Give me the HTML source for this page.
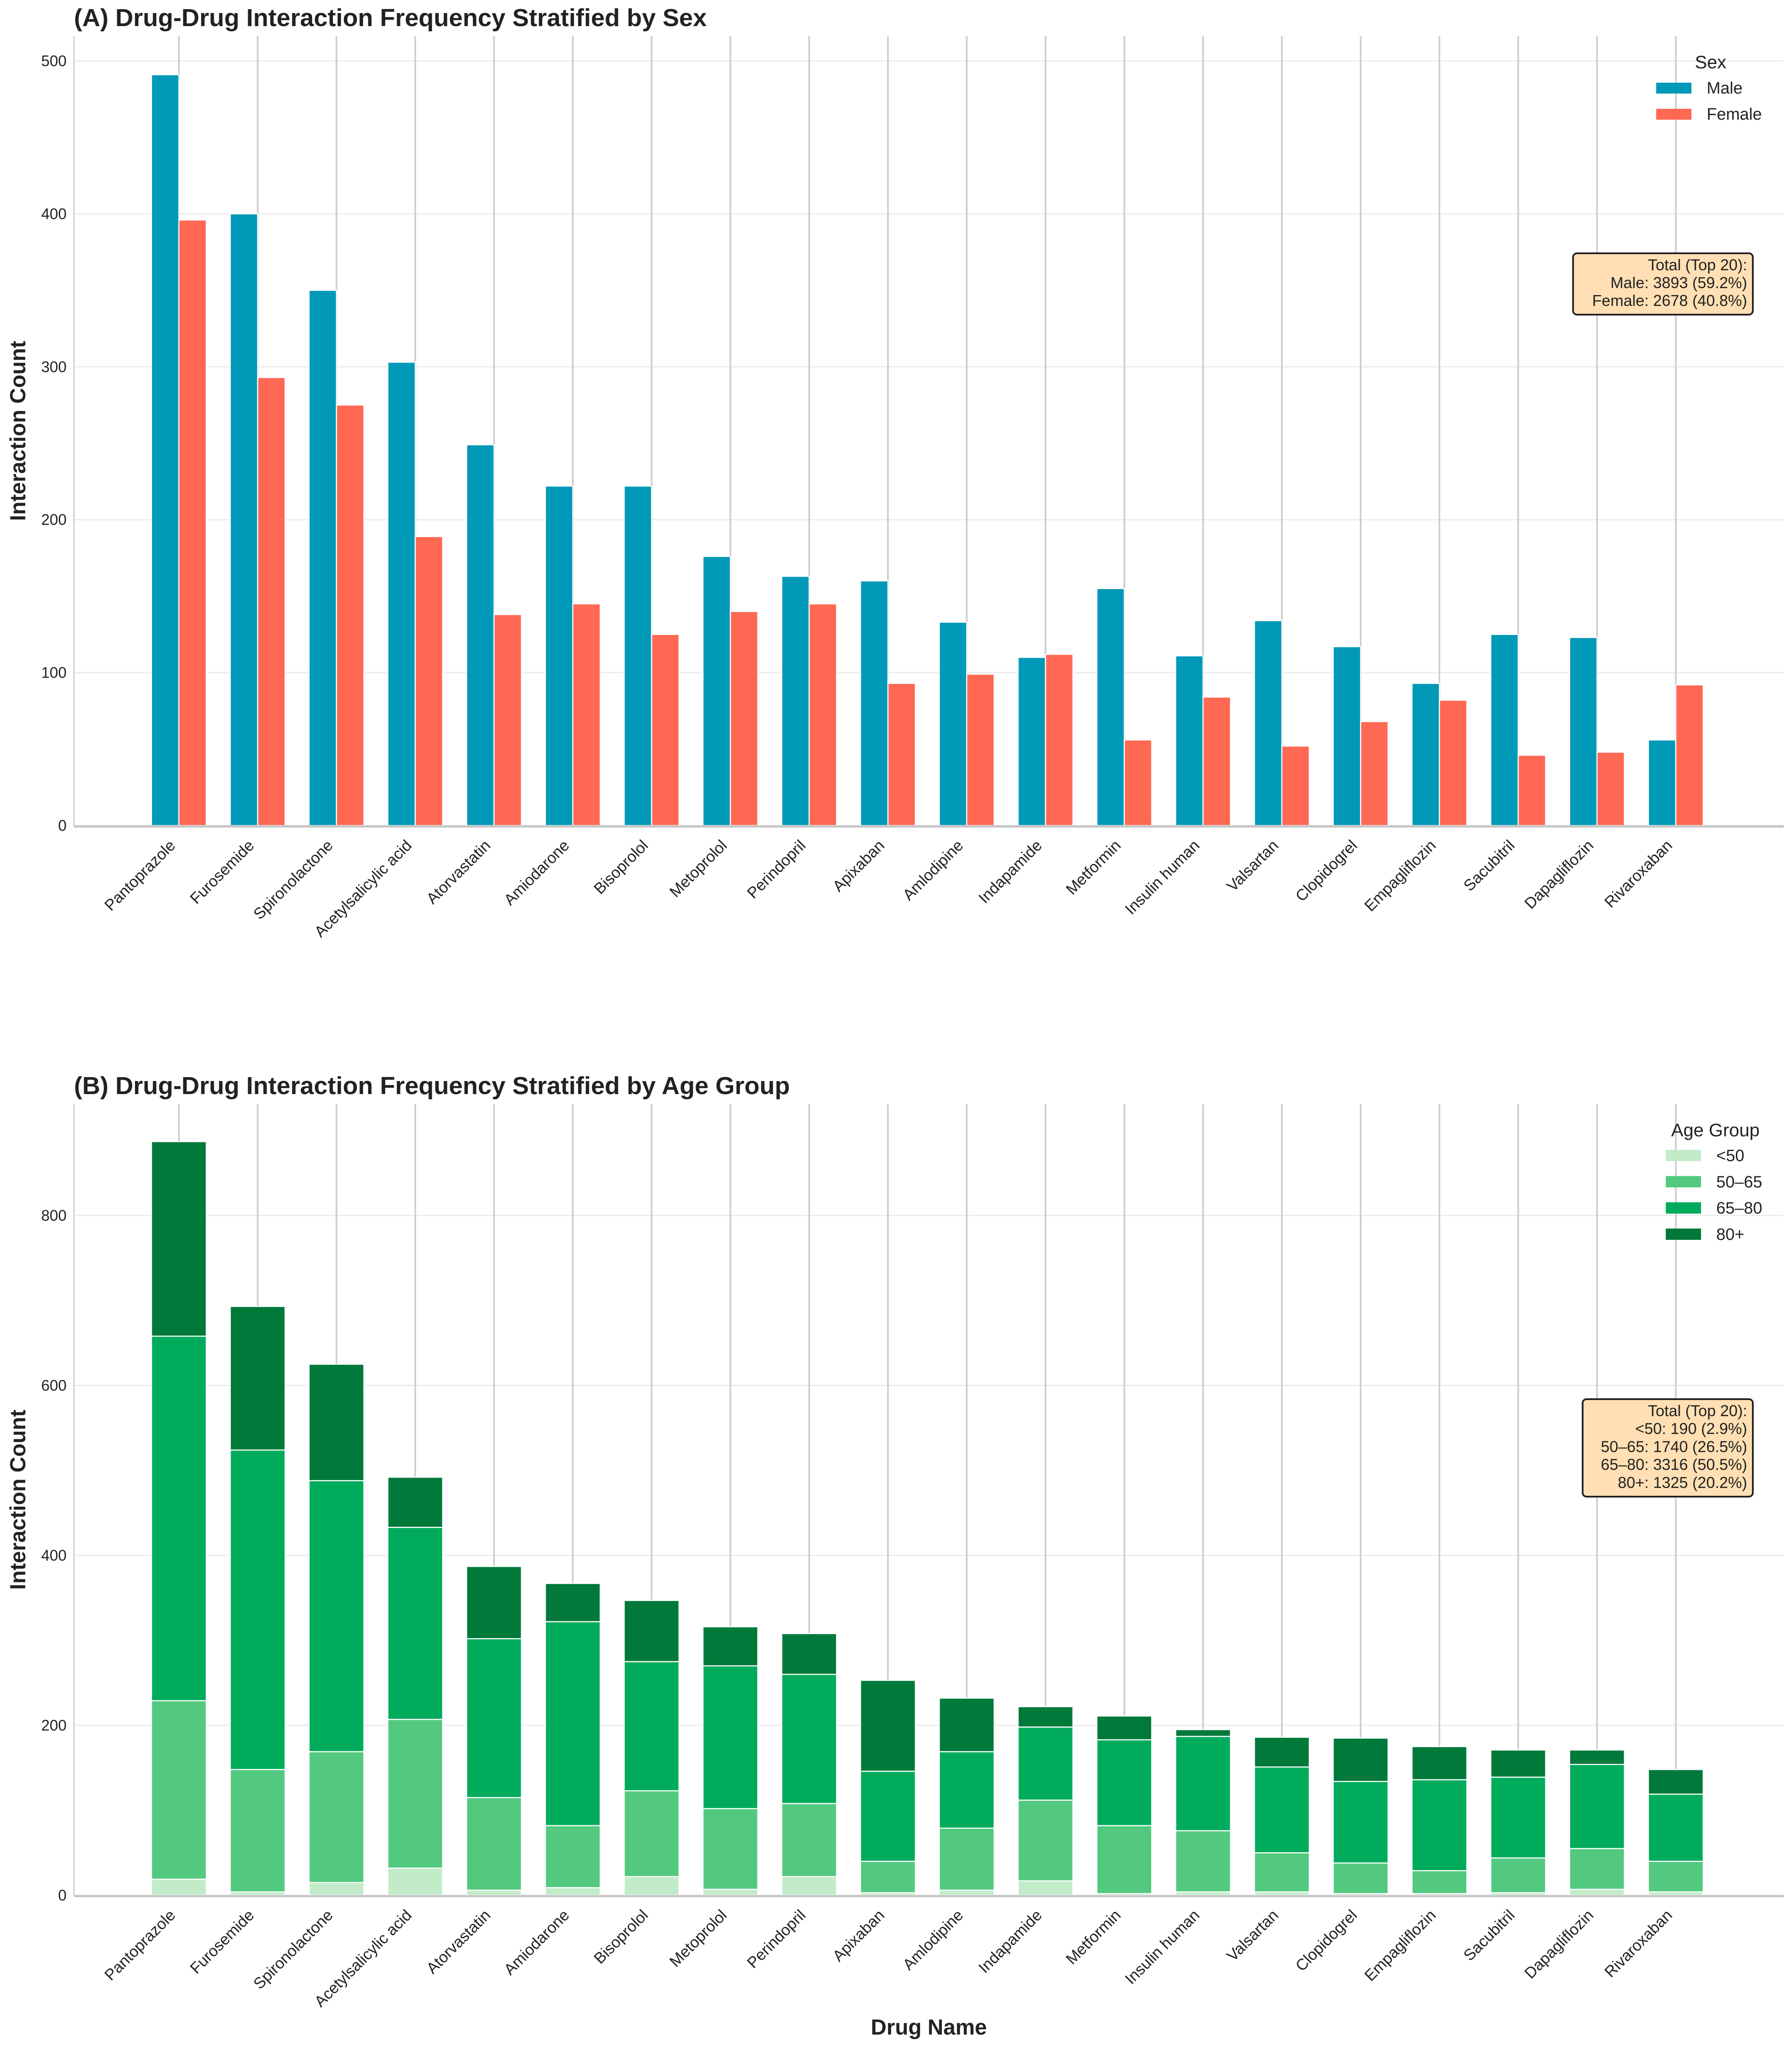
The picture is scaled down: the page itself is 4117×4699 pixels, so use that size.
<!DOCTYPE html>
<html><head><meta charset="utf-8"><style>
html,body{margin:0;padding:0;background:#fff;}
svg{display:block;font-family:"Liberation Sans",Arial,sans-serif;}
</style></head><body>
<svg id="chart" width="4117" height="4699" viewBox="0 0 4117 4699" xmlns="http://www.w3.org/2000/svg">
<rect width="4117" height="4699" fill="#fff"/>
</svg>
<script>
const drugs = ["Pantoprazole","Furosemide","Spironolactone","Acetylsalicylic acid","Atorvastatin","Amiodarone","Bisoprolol","Metoprolol","Perindopril","Apixaban","Amlodipine","Indapamide","Metformin","Insulin human","Valsartan","Clopidogrel","Empagliflozin","Sacubitril","Dapagliflozin","Rivaroxaban"];
const maleVals = [491,400,350,303,249,222,222,176,163,160,133,110,155,111,134,117,93,125,123,56];
const femaleVals = [396,293,275,189,138,145,125,140,145,93,99,112,56,84,52,68,82,46,48,92];
const ageU50 = [19,4,15,32,6,9,22,7,22,3,6,17,2,4,4,2,2,3,7,4];
const age5065 = [210,144,154,175,109,73,101,95,86,37,73,95,80,72,46,36,27,41,48,36];
const age6580 = [429,376,319,226,187,240,152,168,152,106,90,86,101,111,101,96,107,95,99,79];
const age80p = [229,169,137,59,85,45,72,46,48,107,63,24,28,8,35,51,39,32,17,29];
const ticksA = [0,100,200,300,400,500];
const ticksB = [0,200,400,600,800];
const ageLabels = ["<50","50\u201365","65\u201380","80+"];
const ageColors = ["#c2ecc9","#52c97e","#00ab5c","#00793a"];

const NS="http://www.w3.org/2000/svg";
const svg=document.getElementById("chart");
function mk(tag,attrs,parent,text){const e=document.createElementNS(NS,tag);for(const k in attrs)e.setAttribute(k,attrs[k]);if(text!==undefined)e.textContent=text;(parent||svg).appendChild(e);return e;}

const X0=170, X1=4098, C0=411, STEP=181;
function xc(i){return C0+STEP*i;}

function panel(cfg){
  const g=mk("g",{});
  
  
  const y=v=>cfg.base-(v*cfg.scale);
  cfg.ticks.forEach(t=>{
    const l=mk("line",{x1:X0,x2:X1,y1:y(t),y2:y(t),stroke:"#ececec","stroke-width":3},g);
    
    
    const tx=mk("text",{x:153,y:y(t)+12,"text-anchor":"end","font-size":35,fill:"#222"},g,String(t));
    
    
  });
  drugs.forEach((d,i)=>{
    const l=mk("line",{x1:xc(i),x2:xc(i),y1:cfg.top,y2:cfg.base,stroke:"#cfcfcf","stroke-width":4},g);
    
    
  });
  const ls=mk("line",{x1:X0,x2:X0,y1:cfg.top,y2:cfg.base,stroke:"#cccccc","stroke-width":3},g);
  
  
  cfg.drawBars(g,y);
  const bs=mk("line",{x1:X0,x2:X1,y1:cfg.base+2,y2:cfg.base+2,stroke:"#c4c4c4","stroke-width":5},g);
  
  
  drugs.forEach((d,i)=>{
    const ax=xc(i)-6, ay=cfg.base+48;
    const t=mk("text",{x:ax,y:ay,"text-anchor":"end","font-size":36,fill:"#222",transform:`rotate(-45 ${ax} ${ay})`},g,d);
    
    
  });
  const tt=mk("text",{x:170,y:cfg.titleY,"font-size":57,"font-weight":"bold",fill:"#222"},g,cfg.title);
  
  
  const cy=(cfg.top+cfg.base)/2;
  const yt=mk("text",{x:58,y:cy,"text-anchor":"middle","font-size":50,"font-weight":"bold",fill:"#222",transform:`rotate(-90 58 ${cy})`},g,"Interaction Count");
  
  
  return g;
}

panel({name:"panel-a-sex",top:83,base:1897,scale:3.514,ticks:ticksA,titleY:60,
  title:"(A) Drug-Drug Interaction Frequency Stratified by Sex",
  drawBars:(g,y)=>{
    drugs.forEach((d,i)=>{
      const m=mk("rect",{x:xc(i)-63,y:y(maleVals[i]),width:63,height:y(0)-y(maleVals[i]),fill:"#0099b8",stroke:"#fff","stroke-width":2.5},g);
      
      
      const f=mk("rect",{x:xc(i),y:y(femaleVals[i]),width:63,height:y(0)-y(femaleVals[i]),fill:"#ff6853",stroke:"#fff","stroke-width":2.5},g);
      
      
    });
  }});

panel({name:"panel-b-age",top:2537,base:4355,scale:1.9525,ticks:ticksB,titleY:2514,
  title:"(B) Drug-Drug Interaction Frequency Stratified by Age Group",
  drawBars:(g,y)=>{
    const series=[ageU50,age5065,age6580,age80p];
    drugs.forEach((d,i)=>{
      let acc=0;
      series.forEach((s,k)=>{
        const v=s[i];
        const r=mk("rect",{x:xc(i)-63,y:y(acc+v),width:126,height:y(acc)-y(acc+v),fill:ageColors[k],stroke:"#fff","stroke-width":2.5},g);
        
        
        acc+=v;
      });
    });
  }});

const legA=mk("g",{});


mk("text",{x:3930,y:157,"text-anchor":"middle","font-size":42,fill:"#222"},legA,"Sex");
[["Male","#0099b8",190],["Female","#ff6853",250]].forEach(([lab,col,yy])=>{
  const r=mk("rect",{x:3805,y:yy,width:81,height:25,fill:col},legA);
  
  
  const t=mk("text",{x:3921,y:yy+25,"font-size":38,fill:"#222"},legA,lab);
  
  
});

const annA=mk("g",{});


mk("rect",{x:3614,y:582,width:413,height:141,rx:9,fill:"#ffdfb3",stroke:"#222","stroke-width":4},annA);
["Total (Top 20):","Male: 3893 (59.2%)","Female: 2678 (40.8%)"].forEach((s,k)=>{
  mk("text",{x:4014,y:621+41*k,"text-anchor":"end","font-size":36,fill:"#222"},annA,s);
});

const legB=mk("g",{});


mk("text",{x:3941,y:2611,"text-anchor":"middle","font-size":42,fill:"#222"},legB,"Age Group");
ageLabels.forEach((lab,k)=>{
  const yy=2655+60.3*k;
  const r=mk("rect",{x:3827,y:yy-13,width:81,height:26,fill:ageColors[k]},legB);
  
  
  const t=mk("text",{x:3943,y:yy+13,"font-size":38,fill:"#222"},legB,lab);
  
  
});

const annB=mk("g",{});


mk("rect",{x:3636,y:3215,width:391,height:224,rx:9,fill:"#ffdfb3",stroke:"#222","stroke-width":4},annB);
["Total (Top 20):","<50: 190 (2.9%)","50\u201365: 1740 (26.5%)","65\u201380: 3316 (50.5%)","80+: 1325 (20.2%)"].forEach((s,k)=>{
  mk("text",{x:4014,y:3254+41.2*k,"text-anchor":"end","font-size":36,fill:"#222"},annB,s);
});

const xt=mk("text",{x:2134,y:4675,"text-anchor":"middle","font-size":50,"font-weight":"bold",fill:"#222"},svg,"Drug Name");


</script>
</body></html>
